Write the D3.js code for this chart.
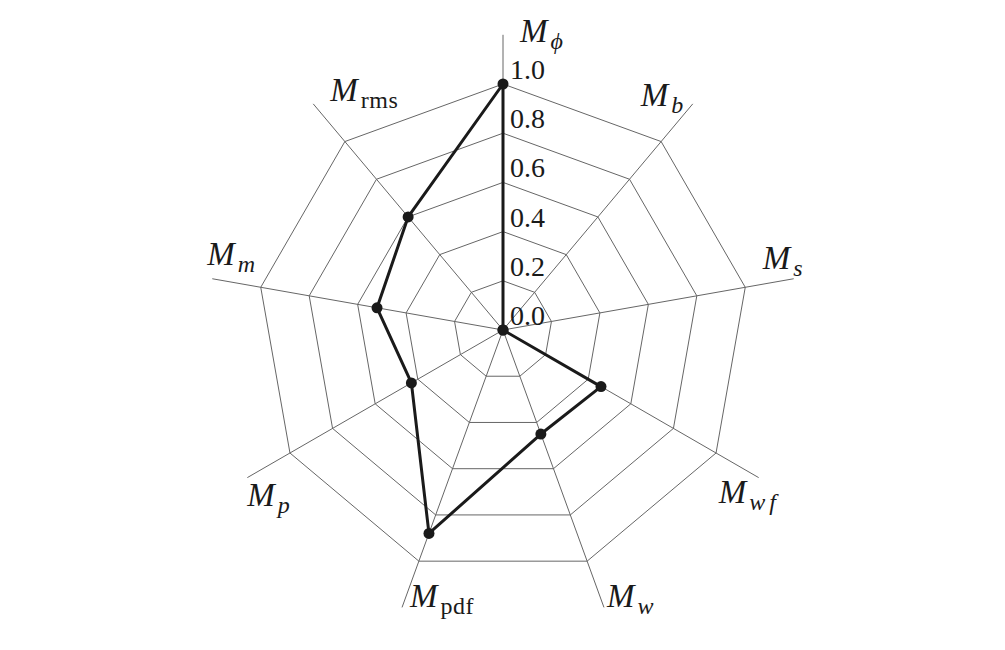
<!DOCTYPE html>
<html>
<head>
<meta charset="utf-8">
<script src="https://cdn.jsdelivr.net/npm/d3@7"></script>
<style>
  html, body { margin: 0; padding: 0; background: #fff; }
  svg { display: block; }
  text { font-family: "Liberation Serif", "Times New Roman", serif; fill: #1a1a1a; }
</style>
</head>
<body>
<svg id="chart" width="1005" height="650"></svg>
<script>
// ---- data ----
const axisBase = ["M", "M", "M", "M", "M", "M", "M", "M", "M"];
const axisSubs = ["\u03d5", "b", "s", "wf", "w", "pdf", "p", "m", "rms"];
const subItalic = [true, true, true, true, true, false, true, true, false];
const values = [1.0, 0.0, 0.0, 0.46, 0.45, 0.88, 0.43, 0.52, 0.60];
const ringTicks = [0.2, 0.4, 0.6, 0.8, 1.0];
const tickLabels = ["0.0", "0.2", "0.4", "0.6", "0.8", "1.0"];
const tickValues = [0.0, 0.2, 0.4, 0.6, 0.8, 1.0];

// ---- layout ----
const W = 1005, H = 650;
const cx = 503, cy = 330;
const rMax = 1.2;
const labelOffsets = [[17, 7], [-52, 2], [-31, -10], [-40, 25], [3, 0], [8, 0], [0, 28], [-5, -14], [17, -3]];

const svg = d3.select("#chart");
const g = svg.append("g").attr("transform", `translate(${cx},${cy})`);

const r = d3.scaleLinear().domain([0, 1]).range([0, 246]);
const n = axisSubs.length;
const angle = d3.scaleLinear().domain([0, n]).range([0, 2 * Math.PI]);
const px = (i, v) => r(v) * Math.sin(angle(i));
const py = (i, v) => -r(v) * Math.cos(angle(i));

const idx = d3.range(n);

// grid rings
const ringLine = d3.lineRadial().angle(i => angle(i)).curve(d3.curveLinearClosed);
ringTicks.forEach(t => {
  g.append("path")
    .attr("d", ringLine.radius(() => r(t))(idx))
    .attr("fill", "none")
    .attr("stroke", "#666")
    .attr("stroke-width", 1);
});

// spokes
g.selectAll("line.spoke").data(idx).join("line")
  .attr("class", "spoke")
  .attr("x1", 0).attr("y1", 0)
  .attr("x2", i => px(i, rMax)).attr("y2", i => py(i, rMax))
  .attr("stroke", "#666").attr("stroke-width", 1);

// tick labels along the first axis
g.selectAll("text.tick").data(tickValues).join("text")
  .attr("class", "tick")
  .attr("x", 7)
  .attr("y", v => -r(v) - 5)
  .attr("font-size", 28)
  .text((v, i) => tickLabels[i]);

// data polygon
const dataLine = d3.lineRadial()
  .angle((d, i) => angle(i))
  .radius(d => r(d))
  .curve(d3.curveLinearClosed);
g.append("path")
  .attr("d", dataLine(values))
  .attr("fill", "none")
  .attr("stroke", "#1a1a1a")
  .attr("stroke-width", 3)
  .attr("stroke-linejoin", "round");

g.selectAll("circle.pt").data(values).join("circle")
  .attr("class", "pt")
  .attr("cx", (d, i) => px(i, d))
  .attr("cy", (d, i) => py(i, d))
  .attr("r", 5.5)
  .attr("fill", "#1a1a1a");

// axis labels
const lab = g.selectAll("text.axlab").data(idx).join("text")
  .attr("class", "axlab")
  .attr("x", i => px(i, rMax) + labelOffsets[i][0])
  .attr("y", i => py(i, rMax) + labelOffsets[i][1]);
lab.append("tspan")
  .attr("font-size", 33)
  .attr("font-style", "italic")
  .attr("letter-spacing", 2)
  .text(i => axisBase[i]);
lab.append("tspan")
  .attr("font-size", 24)
  .attr("dx", 1)
  .attr("dy", 7)
  .attr("letter-spacing", i => axisSubs[i] === "wf" ? 4 : 0.5)
  .attr("font-style", i => subItalic[i] ? "italic" : "normal")
  .text(i => axisSubs[i]);
</script>
</body>
</html>
